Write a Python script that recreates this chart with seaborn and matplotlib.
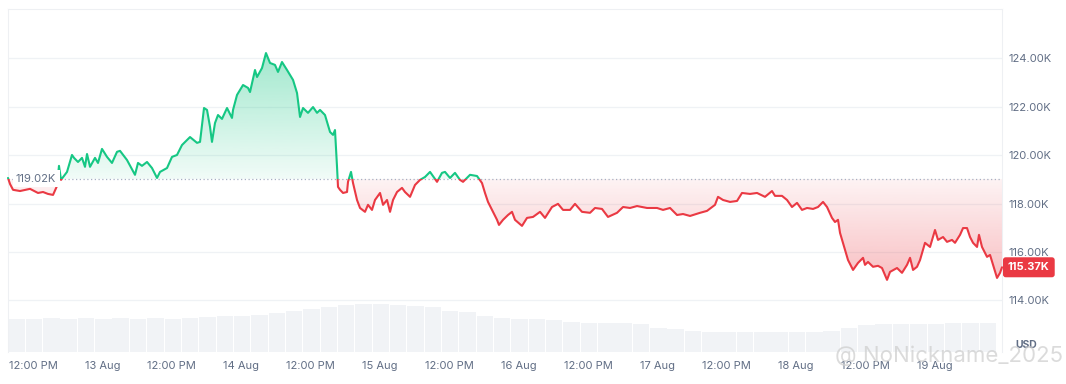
import numpy as np
import pandas as pd
import matplotlib
matplotlib.use('Agg')
import matplotlib.pyplot as plt
import matplotlib.dates as mdates
import matplotlib.transforms as mtransforms
from matplotlib.path import Path
from matplotlib.patches import Rectangle
from matplotlib.colors import to_rgb
import seaborn as sns

# Data: hours since 12 Aug 07:40, price in K USD
start = pd.Timestamp('2025-08-12 07:40')
hours = [0.00, 0.35, 0.87, 2.08, 3.81, 5.19, 6.06, 6.92, 7.79, 8.48, 8.82, 9.17, 10.21, 11.07, 11.42, 12.11,
         12.80, 13.32, 13.67, 14.19, 15.05, 15.57, 16.26, 17.13, 17.99, 18.86, 19.38, 20.59, 21.97, 22.49,
         23.18, 24.05, 24.91, 25.78, 26.30, 27.51, 28.37, 29.24, 30.10, 30.97, 31.49, 32.70, 33.22, 33.91,
         34.43, 34.95, 35.29, 35.81, 36.33, 37.02, 37.89, 38.75, 38.93, 39.62, 40.66, 41.52, 41.87, 42.73,
         43.08, 43.94, 44.63, 45.33, 46.19, 46.71, 47.40, 48.27, 49.31, 50.00, 50.52, 51.04, 51.90, 52.77,
         53.46, 53.98, 54.84, 55.71, 56.23, 56.57, 56.92, 57.09, 57.44, 57.96, 58.65, 58.82, 59.34, 59.69,
         60.38, 60.90, 61.76, 62.28, 62.97, 63.49, 64.36, 64.88, 65.57, 66.09, 66.61, 67.30, 68.16, 68.68,
         69.55, 70.41, 71.28, 72.14, 73.01, 74.22, 75.08, 75.60, 76.47, 77.33, 78.20, 78.72, 79.93, 81.14,
         82.00, 82.52, 83.04, 83.91, 84.60, 84.94, 85.64, 86.50, 87.19, 87.71, 88.92, 89.79, 90.83, 92.04,
         92.90, 94.11, 95.15, 96.02, 97.23, 98.09, 99.30, 100.69, 101.55, 102.76, 103.80, 105.36, 106.40,
         107.61, 108.82, 110.55, 112.28, 113.32, 114.53, 115.74, 116.78, 117.99, 119.72, 120.93, 122.31,
         122.83, 123.70, 124.91, 126.12, 126.98, 128.37, 129.58, 130.96, 132.17, 132.69, 133.90, 134.77,
         135.63, 136.50, 137.36, 138.23, 139.27, 140.13, 141.00, 141.69, 142.55, 143.07, 143.59, 143.94,
         144.80, 145.32, 146.19, 147.05, 147.92, 148.26, 148.78, 149.65, 150.51, 151.20, 151.72, 152.07,
         152.59, 153.80, 154.66, 155.53, 156.05, 156.57, 157.26, 157.78, 158.64, 159.51, 160.37, 160.89,
         161.76, 162.45, 163.31, 163.83, 164.70, 165.22, 165.91, 166.43, 166.95, 167.64, 167.98, 168.50,
         169.37, 169.89, 170.41, 171.10, 171.62, 171.96]
prices = [119.06, 118.81, 118.57, 118.52, 118.61, 118.44, 118.48, 118.40, 118.36, 118.73, 119.56, 118.98,
          119.31, 120.01, 119.89, 119.72, 119.89, 119.52, 120.05, 119.52, 119.89, 119.68, 120.26, 119.93,
          119.68, 120.14, 120.18, 119.80, 119.19, 119.68, 119.56, 119.72, 119.47, 119.06, 119.31, 119.47,
          119.93, 120.01, 120.42, 120.63, 120.75, 120.51, 120.55, 121.95, 121.87, 121.17, 120.55, 121.33,
          121.66, 121.50, 121.95, 121.54, 121.87, 122.49, 122.90, 122.78, 122.61, 123.52, 123.23, 123.60,
          124.22, 123.81, 123.73, 123.44, 123.85, 123.52, 123.11, 122.57, 121.58, 121.95, 121.75, 121.99,
          121.75, 121.87, 121.66, 120.96, 120.84, 121.04, 119.52, 118.69, 118.57, 118.44, 118.48, 118.90,
          119.31, 118.85, 118.15, 117.82, 117.66, 117.95, 117.74, 118.15, 118.44, 117.95, 118.15, 117.66,
          118.15, 118.48, 118.65, 118.48, 118.28, 118.77, 118.98, 119.10, 119.31, 118.90, 119.27, 119.31,
          119.06, 119.27, 118.98, 118.90, 119.19, 119.14, 118.85, 118.44, 118.07, 117.66, 117.33, 117.12,
          117.33, 117.53, 117.66, 117.33, 117.08, 117.41, 117.45, 117.66, 117.41, 117.86, 117.99, 117.74,
          117.74, 117.99, 117.66, 117.62, 117.82, 117.78, 117.45, 117.62, 117.86, 117.82, 117.90, 117.82,
          117.82, 117.74, 117.82, 117.53, 117.57, 117.49, 117.62, 117.70, 117.95, 118.28, 118.15, 118.07,
          118.11, 118.44, 118.40, 118.44, 118.28, 118.52, 118.32, 118.32, 118.15, 117.86, 118.03, 117.74,
          117.82, 117.78, 117.86, 118.07, 117.86, 117.41, 117.24, 117.33, 116.79, 116.09, 115.67, 115.26,
          115.55, 115.76, 115.47, 115.59, 115.39, 115.43, 115.34, 115.04, 114.85, 115.18, 115.34, 115.14,
          115.47, 115.76, 115.26, 115.39, 115.67, 116.38, 116.21, 116.91, 116.50, 116.62, 116.42, 116.50,
          116.38, 116.71, 116.99, 116.99, 116.62, 116.38, 116.21, 116.71, 116.21, 115.80, 115.88, 115.47,
          114.93, 115.14, 115.37]
base_price = 119.02
last_price = 115.37

# volume, one bar every 3 hours (relative height)
volume = [33, 33, 34, 33, 34, 33, 34, 33, 34, 33, 34, 35, 36, 36, 37, 39, 41, 43, 45, 47, 48, 48, 47, 46,
          45, 41, 40, 36, 34, 33, 33, 32, 30, 29, 29, 29, 28, 24, 23, 21, 20, 20, 20, 20, 20, 20, 20, 21,
          24, 27, 28, 28, 28, 28, 29, 29, 29]
vol_hours = np.arange(len(volume)) * 3 + 1.5

tick_times = pd.date_range('2025-08-12 12:00', periods=14, freq='12h')
tick_labels = ['12:00 PM', '13 Aug', '12:00 PM', '14 Aug', '12:00 PM', '15 Aug', '12:00 PM', '16 Aug',
               '12:00 PM', '17 Aug', '12:00 PM', '18 Aug', '12:00 PM', '19 Aug']
y_ticks = [114, 116, 118, 120, 122, 124]

GREEN = '#16c784'
RED = '#ea3943'
GREY = '#616e85'

sns.set_theme(style='white')
plt.rcParams['font.family'] = ['Inter', 'DejaVu Sans']

df = pd.DataFrame({'time': start + pd.to_timedelta(hours, unit='h'), 'price': prices})
vol_time = start + pd.to_timedelta(vol_hours, unit='h')

fig = plt.figure(figsize=(10.66, 3.84), dpi=100)
ax = fig.add_axes([8 / 1066, 32 / 384, 994 / 1066, 343 / 384])
axv = ax.twinx()

# volume bars
axv.bar(mdates.date2num(vol_time), volume, width=2.85 / 24, color='#f1f3f6', linewidth=0)
axv.set_ylim(0, 343)
axv.set_yticks([])
for s in axv.spines.values():
    s.set_visible(False)

ax.set_zorder(axv.get_zorder() + 1)
ax.patch.set_visible(False)

xnum = mdates.date2num(df['time'])
y = np.array(prices)


def gradient_fill(mask, color, lo, hi, a_lo, a_hi):
    coll = ax.fill_between(xnum, y, base_price, where=mask, interpolate=True,
                           facecolor='none', edgecolor='none')
    path = Path.make_compound_path(*coll.get_paths())
    img = np.zeros((256, 1, 4))
    img[:, :, :3] = to_rgb(color)
    img[:, 0, 3] = np.linspace(a_lo, a_hi, 256)
    im = ax.imshow(img, aspect='auto', origin='lower', interpolation='bicubic',
                   extent=[xnum.min(), xnum.max(), lo, hi], zorder=1)
    im.set_clip_path(path, ax.transData)


gradient_fill(y >= base_price, GREEN, base_price, y.max(), 0.06, 0.40)
gradient_fill(y <= base_price, RED, y.min(), base_price, 0.32, 0.06)

# price line, green above the open, red below
sns.lineplot(data=df, x='time', y='price', ax=ax, color=GREEN, linewidth=1.5, zorder=3)
ax.lines[-1].set_clip_path(Rectangle((xnum.min() - 1, base_price), xnum.max() - xnum.min() + 2, 20,
                                     transform=ax.transData))
sns.lineplot(data=df, x='time', y='price', ax=ax, color=RED, linewidth=1.5, zorder=3)
ax.lines[-1].set_clip_path(Rectangle((xnum.min() - 1, base_price - 20), xnum.max() - xnum.min() + 2, 20,
                                     transform=ax.transData))

ax.axhline(base_price, color='#a6b0c3', linewidth=0.9, linestyle=(0, (1, 2)), zorder=2)

ax.set_xlim(xnum.min(), xnum.max())
ax.set_ylim(111.87, 126.04)
ax.set_xlabel('')
ax.set_ylabel('')

ax.set_xticks(tick_times)
ax.set_xticklabels(tick_labels)
ax.yaxis.tick_right()
ax.set_yticks(y_ticks)
ax.set_yticklabels([f'{v:.2f}K' for v in y_ticks])
ax.tick_params(axis='x', length=0, labelsize=8, colors=GREY, pad=6.5)
ax.tick_params(axis='y', length=0, labelsize=8, colors=GREY, pad=4.5)
ax.grid(axis='y', color='#eff2f5', linewidth=0.9)
ax.grid(axis='x', visible=False)
for name, s in ax.spines.items():
    s.set_color('#eef0f3')
    s.set_linewidth(0.8)
ax.spines['bottom'].set_visible(False)

blend = mtransforms.blended_transform_factory(ax.transAxes, ax.transData)
ax.text(0.008, base_price, '119.02K', transform=blend, ha='left', va='center', fontsize=8,
        color=GREY, bbox=dict(fc='white', ec='none', pad=2.5), zorder=5)
ax.text(1.006, last_price, '115.37K', transform=blend, ha='left', va='center', fontsize=8,
        color='white', fontweight='bold', clip_on=False, zorder=6,
        bbox=dict(boxstyle='round,pad=0.45,rounding_size=0.25', fc=RED, ec='none'))

fig.text(1026 / 1066, 1 - 345 / 384, 'USD', fontsize=7.5, fontweight='bold', color=GREY,
         ha='center', va='center')
fig.text(835 / 1066, 1 - 356 / 384, '@ NoNickname_2025', fontsize=16, color='#cfcfcf',
         alpha=0.75, ha='left', va='center')

fig.savefig('out.png', dpi=100)
